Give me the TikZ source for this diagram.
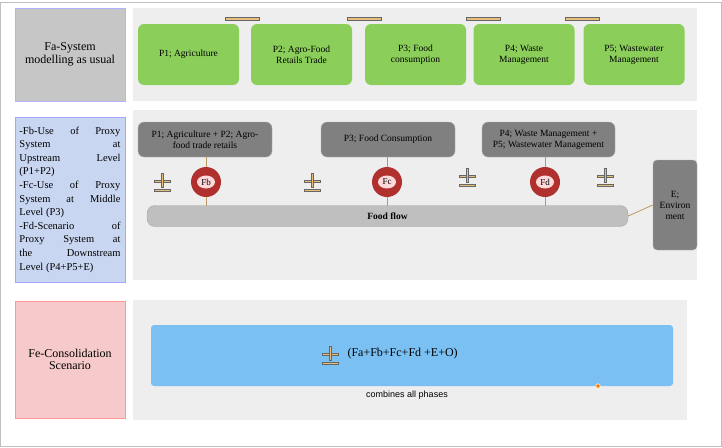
\documentclass[tikz,border=0pt]{standalone}
\usepackage{fontspec}
\usetikzlibrary{shapes.geometric}
\setmainfont{Liberation Serif}
\newfontfamily\sansf{Liberation Sans}
\begin{document}
\begin{tikzpicture}[x=1pt,y=-1pt,
  lbox/.style={draw=#1,line width=0.5pt},
  txt/.style={font=\fontsize{9.5}{11}\selectfont,align=center}]
\definecolor{gfill}{HTML}{8BCF5A}
\definecolor{dgray}{HTML}{808080}
\definecolor{tan}{HTML}{E6BE78}
\definecolor{cred}{HTML}{B0302E}
\definecolor{lblue}{HTML}{C9D6F2}
\definecolor{lpink}{HTML}{F6CACA}
\definecolor{sky}{HTML}{7BC0F2}
\tikzset{pm/.pic={
  \fill[tan,draw=black!60,line width=0.3pt] (-8,-1) rectangle (8,1);
  \fill[tan,draw=black!60,line width=0.3pt] (-1,-8) rectangle (1,6);
  \fill[tan,draw=black!60,line width=0.3pt] (-8,8) rectangle (8,10);
}}
\useasboundingbox (0,0) rectangle (722,447);
\draw[gray!50] (0.5,2) rectangle (721.5,446.5);
% row 1
\node[fill=gray!45,lbox=blue!30,minimum width=110,minimum height=93,txt,font=\fontsize{12}{12.5}\selectfont] (fa) at (70,54.5) {Fa-System\\modelling as usual};
\fill[gray!13] (133,8) rectangle (697,101);
\foreach \n/\x/\t in {p1/188.5/{P1; Agriculture},p2/301.5/{P2; Agro-Food\\Retails Trade},p3/415.5/{P3; Food\\consumption},p4/524/{P4; Waste\\Management},p5/634/{P5; Wastewater\\Management}}
  \node[fill=gfill,rounded corners=6pt,minimum width=101,minimum height=61,txt] (\n) at (\x,54.5) {\t};
\foreach \x in {225,347,466,565}
  \fill[tan,draw=black!60,line width=0.4pt] (\x,17.5) rectangle (\x+34,20.5);
% row 2
\node[fill=lblue,lbox=blue!35,minimum width=110,minimum height=165] (lt) at (70,199.5) {};
\node[font=\fontsize{10.5}{13.6}\selectfont,align=left,inner sep=0] (ltt) at (70,199.5) {%
\makebox[101pt][s]{-Fb-Use of Proxy}\\\makebox[101pt][s]{System at}\\\makebox[101pt][s]{Upstream Level}\\(P1+P2)\\%
\makebox[101pt][s]{-Fc-Use of Proxy}\\\makebox[101pt][s]{System at Middle}\\Level (P3)\\%
\makebox[101pt][s]{-Fd-Scenario of}\\\makebox[101pt][s]{Proxy System at}\\\makebox[101pt][s]{the Downstream}\\Level (P4+P5+E)};
\fill[gray!13] (133,110) rectangle (697,280);
\node[fill=dgray,draw=gray!60,rounded corners=6pt,minimum width=134,minimum height=35,txt] (b1) at (205,139.5) {P1; Agriculture + P2; Agro-\\food trade retails};
\node[fill=dgray,draw=gray!60,rounded corners=6pt,minimum width=134,minimum height=35,txt] (b2) at (388,139.5) {P3; Food Consumption};
\node[fill=dgray,draw=gray!60,rounded corners=6pt,minimum width=133,minimum height=35,txt] (b3) at (548.5,139.5) {P4; Waste Management +\\P5; Wastewater Management};
\node[fill=gray!50,draw=gray!70,rounded corners=8pt,minimum width=481,minimum height=21,font=\bfseries\fontsize{9.5}{10}\selectfont] (ff) at (387.5,216) {Food flow};
\node[fill=dgray,draw=gray!60,rounded corners=4pt,minimum width=44,minimum height=90,txt] (e) at (675,205) {E;\\Environ\\ment};
\draw[tan!80!black,line width=0.8pt] (ff.east) -- (e.west);
\foreach \n/\x/\l in {fb/206/Fb,fc/387/Fc,fd/545/Fd}{
  \draw[tan!80!black,line width=0.8pt] (\x,157) -- (\x,205.5);
  \node[circle,fill=cred,minimum size=30,inner sep=0] (\n) at (\x,182) {};
  \node[ellipse,fill=red!15,inner sep=1pt,minimum width=18,minimum height=13,font=\fontsize{9}{9}\selectfont] at (\n) {\l};
}
\pic at (162,181) {pm};
\pic at (312,181) {pm};
\pic at (467,176) {pm};
\pic at (605,176) {pm};
% row 3
\node[fill=lpink,lbox=red!40,minimum width=110,minimum height=117,txt,font=\fontsize{12}{12.5}\selectfont] (fe) at (70,359.5) {Fe-Consolidation\\Scenario};
\fill[gray!13] (133,300) rectangle (687,420);
\node[fill=sky,rounded corners=3pt,minimum width=522,minimum height=61] (cb) at (412,355.5) {};
\pic at (330,354) {pm};
\node[font=\fontsize{12}{12}\selectfont,anchor=west] (ft) at (344,354) {(Fa+Fb+Fc+Fd +E+O)};
\node[font=\sansf\fontsize{9}{9}\selectfont] (cm) at (407,395) {combines all phases};
\fill[orange,draw=white,line width=0.5pt] (598,386) circle (2.3);
\end{tikzpicture}
\end{document}
